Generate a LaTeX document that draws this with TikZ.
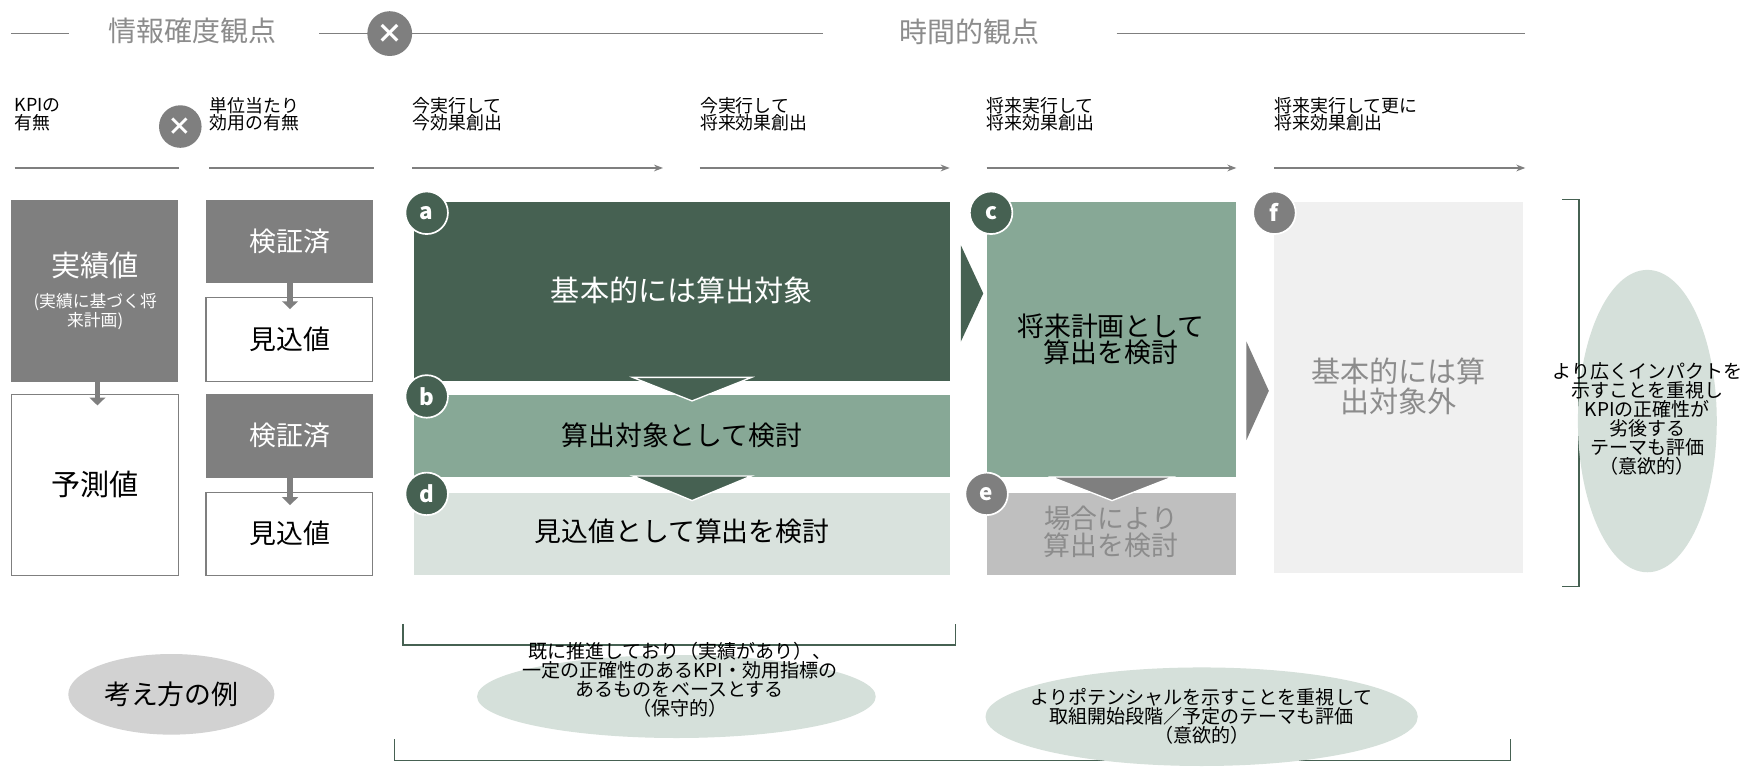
\documentclass[tikz,border=0pt]{standalone}
\usepackage{fontspec}
\setmainfont{Noto Sans CJK JP}
\usetikzlibrary{arrows.meta,shapes.geometric}
\definecolor{dkg}{HTML}{466152}
\definecolor{mdg}{HTML}{87A896}
\definecolor{ltg}{HTML}{D9E2DD}
\definecolor{gr}{HTML}{7F7F7F}
\definecolor{lgr}{HTML}{BFBFBF}
\definecolor{fgr}{HTML}{F0F0F0}
\definecolor{txg}{HTML}{8C8C8C}
\definecolor{ell}{HTML}{D5E0DA}
\tikzset{
 fs/.style={font=\fontsize{#1}{#1}\selectfont},
 hdr/.style={fs=16,anchor=west,align=left,inner sep=0},
 hline/.style={gr,line width=1.3pt},
 harr/.style={hline,-{Stealth[length=8pt,width=6pt]}},
 badge/.style={circle,draw=white,line width=1.5pt,minimum size=38pt,inner sep=0,text=white,font=\bfseries\fontsize{20}{20}\selectfont},
 dbl/.style={gr,line width=5pt,{Triangle[length=7pt,width=14pt]}-{Triangle[length=7pt,width=14pt]}},
 brk/.style={dkg,line width=1.2pt},
}
\begin{document}
\begin{tikzpicture}[x=1pt,y=-1pt]
\useasboundingbox[fill=white] (0,0) rectangle (1560,691);
% top line
\draw[hline] (10,30)--(62,30);
\node[fs=25,text=txg] (t1) at (172,28) {情報確度観点};
\draw[hline] (285,30)--(330,30);
\node[circle,fill=gr,minimum size=40pt,inner sep=0,text=white,font=\bfseries\fontsize{24}{24}\selectfont] (x1) at (348,30) {×};
\draw[hline] (x1.east)--(735,30);
\node[fs=25,text=txg] (t2) at (866,28) {時間的観点};
\draw[hline] (997,30)--(1362,30);
% headers
\node[hdr] (h1) at (13,102) {KPIの\\有無};
\node[circle,fill=gr,minimum size=38pt,inner sep=0,text=white,font=\bfseries\fontsize{22}{22}\selectfont] (x2) at (161,113) {×};
\node[hdr] (h2) at (187,102) {単位当たり\\効用の有無};
\node[hdr] (h3) at (368,102) {今実行して\\今効果創出};
\node[hdr] (h4) at (625,102) {今実行して\\将来効果創出};
\node[hdr] (h5) at (881,102) {将来実行して\\将来効果創出};
\node[hdr] (h6) at (1138,102) {将来実行して更に\\将来効果創出};
\draw[hline] (13,150)--(160,150);
\draw[hline] (187,150)--(334,150);
\draw[harr] (368,150)--(592,150);
\draw[harr] (625,150)--(848,150);
\draw[harr] (881,150)--(1104,150);
\draw[harr] (1138,150)--(1362,150);
% left column
\fill[gr] (10,179) rectangle (159,341);
\node[fs=26,text=white] (jv) at (85,237) {実績値};
\node[fs=15,text=white,align=center] (jv2) at (85,278) {(実績に基づく将\\来計画)};
\draw[gr,line width=1pt,fill=white] (10,352) rectangle (159,514);
\node[fs=26] (yv) at (85,433) {予測値};
\draw[dbl] (87,325)--(87,362);
% column 2
\fill[gr] (184,179) rectangle (333,253);
\node[fs=24,text=white] (k1) at (259,216) {検証済};
\draw[gr,line width=1pt,fill=white] (184,266) rectangle (333,341);
\node[fs=24] (m1) at (259,303) {見込値};
\draw[dbl] (259,238)--(259,276);
\fill[gr] (184,352) rectangle (333,427);
\node[fs=24,text=white] (k2) at (259,389) {検証済};
\draw[gr,line width=1pt,fill=white] (184,440) rectangle (333,514);
\node[fs=24] (m2) at (259,476) {見込値};
\draw[dbl] (259,412)--(259,451);
% main boxes
\fill[dkg] (370,180) rectangle (848,340);
\node[fs=26,text=white] (ta) at (609,259) {基本的には算出対象};
\fill[mdg] (370,353) rectangle (848,426);
\node[fs=24] (tb) at (609,389) {算出対象として検討};
\fill[ltg] (370,440) rectangle (848,513);
\node[fs=24] (td) at (609,474) {見込値として算出を検討};
\fill[dkg,draw=white,line width=1.2pt] (565,337)--(671,337)--(618,358)--cycle;
\fill[dkg,draw=white,line width=1.2pt] (565,425)--(671,425)--(618,447)--cycle;
\fill[dkg] (858,219)--(878,262)--(858,305)--cycle;
\fill[mdg] (881,180) rectangle (1104,426);
\node[fs=24,align=center] (tc) at (992,303) {将来計画として\\算出を検討};
\fill[lgr] (881,440) rectangle (1104,513);
\node[fs=24,align=center,text=txg] (te) at (992,475) {場合により\\算出を検討};
\fill[gr,draw=white,line width=1.2pt] (939,426)--(1047,426)--(993,447)--cycle;
\fill[gr] (1113,305)--(1133,349)--(1113,393)--cycle;
\fill[fgr] (1138,180) rectangle (1360,512);
\node[fs=26,align=center,text=txg] (tf) at (1249,345) {基本的には算\\出対象外};
% badges
\node[badge,fill=dkg] (ba) at (381,190) {a};
\node[badge,fill=dkg] (bb) at (381,354) {b};
\node[badge,fill=dkg] (bd) at (381,441) {d};
\node[badge,fill=dkg] (bc) at (885,190) {c};
\node[badge,fill=gr] (be) at (881,441) {e};
\node[badge,fill=gr] (bf) at (1138,190) {f};
% right bracket & ellipse
\draw[brk] (1395,178)--(1410,178)--(1410,524)--(1395,524);
\node[ellipse,fill=ell,minimum width=124pt,minimum height=270pt] (er) at (1471,376) {};
\node[fs=17,align=center,inner sep=0] (ert) at (1471,374) {より広くインパクトを\\示すことを重視し\\KPIの正確性が\\劣後する\\テーマも評価\\（意欲的）};
% bottom
\draw[brk] (360,557)--(360,576)--(853,576)--(853,557);
\node[ellipse,fill=ell,minimum width=356pt,minimum height=74pt] (e1) at (604,622) {};
\node[fs=17,align=center,inner sep=0] (e1t) at (607,607) {既に推進しており（実績があり）、\\一定の正確性のあるKPI・効用指標の\\あるものをベースとする\\（保守的）};
\node[ellipse,fill=lgr!70,minimum width=184pt,minimum height=72pt,fs=24] (ex) at (153,620) {考え方の例};
\draw[brk] (352,660)--(352,679)--(1349,679)--(1349,660);
\node[ellipse,fill=ell,minimum width=386pt,minimum height=88pt] (e2) at (1073,640) {};
\node[fs=17,align=center,inner sep=0] (e2t) at (1073,640) {よりポテンシャルを示すことを重視して\\取組開始段階／予定のテーマも評価\\（意欲的）};
\end{tikzpicture}
\end{document}
